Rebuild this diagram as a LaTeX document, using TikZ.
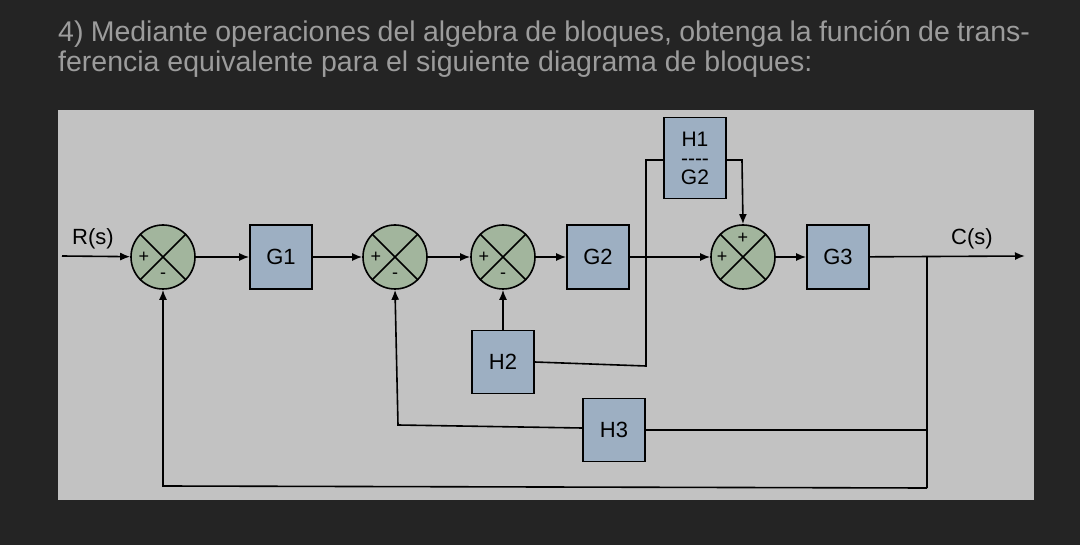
\documentclass[tikz,border=0pt]{standalone}
\usepackage{fontspec}
\setmainfont{Liberation Sans}
\usetikzlibrary{arrows.meta}
\begin{document}
\begin{tikzpicture}[x=1pt,y=-1pt,>={Latex[length=10pt,width=8pt]},
  blk/.style={draw=black,line width=1.6pt,fill=blk,minimum width=62pt,minimum height=64pt,inner sep=0pt,font=\fontsize{22}{24}\selectfont},
  sumj/.style={draw=black,line width=1.6pt,fill=sumc,circle,minimum size=64pt,inner sep=0pt},
  ln/.style={line width=1.6pt},
  sg/.style={font=\fontsize{18}{18}\selectfont,inner sep=0pt},
  lab/.style={font=\fontsize{22}{24}\selectfont}]
\definecolor{blk}{HTML}{9DAFC2}
\definecolor{sumc}{HTML}{A2B59D}
\definecolor{bgc}{HTML}{242424}
\definecolor{pan}{HTML}{C2C2C2}
\definecolor{ttl}{HTML}{9C9C9C}
\fill[bgc] (0,0) rectangle (1080,545);
\fill[pan] (58,110) rectangle (1034,500);
\node[anchor=north west,text width=972pt,align=justify,text=ttl,font=\fontsize{28.5}{30}\selectfont,inner sep=0pt] (title) at (58,20)
 {4) Mediante operaciones del algebra de bloques, obtenga la función de transferencia equivalente para el siguiente diagrama de bloques:};
\foreach \n/\x in {s1/163,s2/395,s3/503,s4/743}{
  \node[sumj] (\n) at (\x,257) {};
  \draw[line width=1.6pt] (\n.north west) -- (\n.south east) (\n.north east) -- (\n.south west);
}
\foreach \n in {s1,s2,s3}{
  \node[sg] at ([xshift=-19pt]\n.center) {+};
  \node[sg] at ([yshift=-19pt]\n.center) {-};
}
\node[sg] at ([xshift=-21pt]s4.center) {+};
\node[sg] at ([yshift=19pt]s4.center) {+};
\node[blk] (g1) at (281,257) {G1};
\node[blk] (g2) at (598,257) {G2};
\node[blk] (g3) at (838,257) {G3};
\node[blk,minimum height=81pt,align=center,font=\fontsize{21}{23}\selectfont] (h1) at (695,158) {H1\\[-4pt]{-}{-}{-}{-}\\[-4pt]G2};
\node[blk,minimum height=63pt] (h2) at (503,362) {H2};
\node[blk,minimum height=63pt] (h3) at (614,430) {H3};
\coordinate (rin) at (62,256);
\node[lab] (rl) at (93,239) {R(s)};
\coordinate (brk) at (927,256);
\coordinate (cout) at (1025,256);
\node[lab] (cl) at (972,239) {C(s)};
\draw[ln,->] (rin) -- (s1);
\draw[ln,->] (s1) -- (g1);
\draw[ln,->] (g1) -- (s2);
\draw[ln,->] (s2) -- (s3);
\draw[ln,->] (s3) -- (g2);
\draw[ln,->] (g2) -- (s4);
\draw[ln,->] (s4) -- (g3);
\draw[ln,->] (g3) -- (cout);
\draw[ln] (h2.east) -- (646,366) -- (646,160) -- (h1.west |- 0,160);
\draw[ln,->] (h1.east |- 0,160) -- (742,160) -- (s4.north);
\draw[ln,->] (h2.north) -- (s3.south);
\draw[ln] (brk) -- (927,488);
\draw[ln] (927,430) -- (h3.east);
\draw[ln,->] (h3.west |- 0,428) -- (398,425) -- (s2.south);
\draw[ln,->] (927,488) -- (163,486) -- (s1.south);
\end{tikzpicture}
\end{document}
